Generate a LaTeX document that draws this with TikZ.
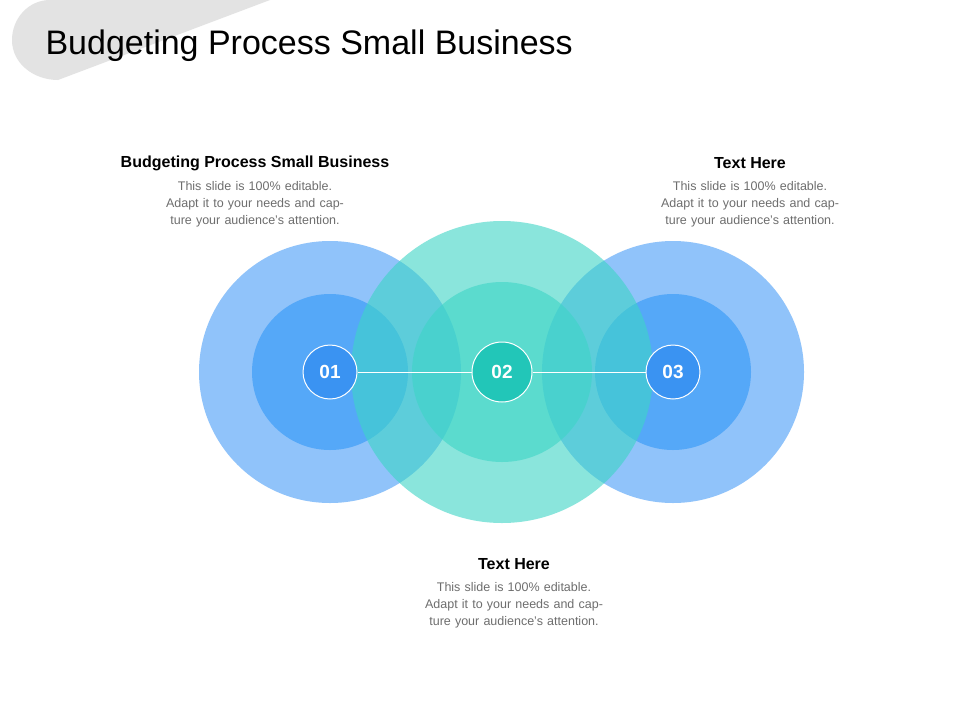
\documentclass[tikz,border=0pt]{standalone}
\usepackage{fontspec}
\setmainfont{Liberation Sans}
\definecolor{blueout}{HTML}{90C3FA}
\definecolor{bluein}{HTML}{55A8F8}
\definecolor{bluedot}{HTML}{3A93F2}
\definecolor{tealc}{HTML}{3CD5C6}
\definecolor{tealdot}{HTML}{22C6B8}
\definecolor{swoosh}{HTML}{E3E3E3}
\definecolor{bodytext}{HTML}{6E6E6E}
\tikzset{
  dot/.style={circle, draw=white, line width=1pt, text=white, font=\bfseries\fontsize{19}{19}\selectfont, inner sep=0pt},
  head/.style={font=\bfseries\fontsize{16}{18}\selectfont, text=black},
  body/.style={font=\fontsize{12.5}{17}\selectfont, text=bodytext, align=center, text width=240pt}
}
\begin{document}
\begin{tikzpicture}[x=1pt,y=-1pt]
	\useasboundingbox (0,0) rectangle (960,720);
	\fill[white] (0,0) rectangle (960,720);
	% title swoosh
	\fill[swoosh] (270,0) -- (58,80) to [out=180,in=-90] (12,40) to [out=90,in=180] (50,0) -- cycle;
	\node[anchor=base west, font=\fontsize{34}{34}\selectfont] (title) at (42,54) {Budgeting Process Small Business};
	
	% rings
	\fill[blueout] (330,372) circle (131);
	\fill[bluein] (330,372) circle (78);
	\fill[blueout] (673,372) circle (131);
	\fill[bluein] (673,372) circle (78);
	\fill[tealc, opacity=0.6] (502,372) circle (151);
	\fill[tealc, opacity=0.6] (502,372) circle (90);
	
	\node[dot, fill=bluedot, minimum size=54pt] (d1) at (330,372) {01};
	\node[dot, fill=tealdot, minimum size=60pt] (d2) at (502,372) {02};
	\node[dot, fill=bluedot, minimum size=54pt] (d3) at (673,372) {03};
	\draw[white, line width=0.8pt] (d1) -- (d2);
	\draw[white, line width=0.8pt] (d2) -- (d3);
	
	% labels
	\node[head] (h1) at (255,163) {Budgeting Process Small Business};
	\node[body, anchor=north] (b1) at (255,178) {This slide is 100\% editable. Adapt it to your needs and capture your audience's attention.};
	\node[head] (h3) at (750,163) {Text Here};
	\node[body, anchor=north] (b3) at (750,178) {This slide is 100\% editable. Adapt it to your needs and capture your audience's attention.};
	\node[head] (h2) at (514,564) {Text Here};
	\node[body, anchor=north] (b2) at (514,579) {This slide is 100\% editable. Adapt it to your needs and capture your audience's attention.};
\end{tikzpicture}
\end{document}
